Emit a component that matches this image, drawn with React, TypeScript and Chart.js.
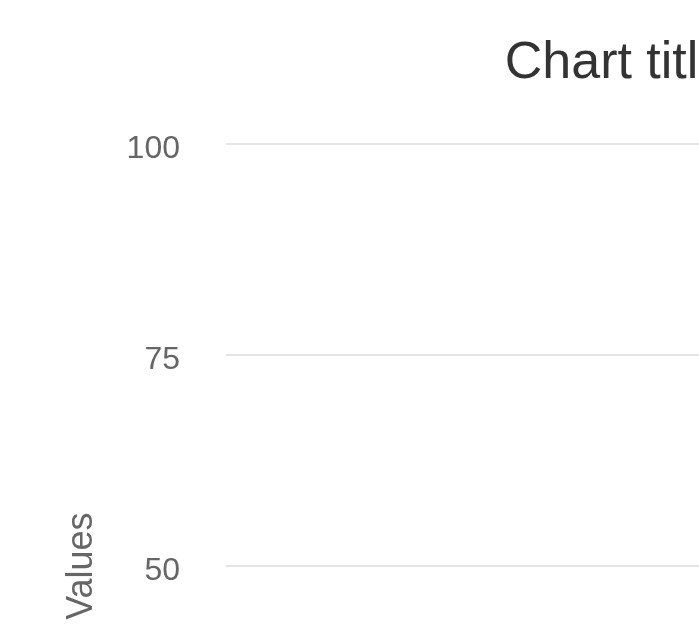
import { useEffect, useRef } from 'react';
import { Chart, registerables } from 'chart.js';

Chart.register(...registerables);

const FONT = "'Liberation Sans', Arial, Helvetica, sans-serif";

const categories = ['A', 'B', 'C', 'D', 'E', 'F'];
const seriesValues = [18, 32, 25, 40, 12, 28];
const yMin = 0;
const yMax = 100;
const yStep = 25;
const chartTitle = 'Chart title';
const yAxisTitle = 'Values';

export default function App() {
  const ref = useRef<HTMLCanvasElement>(null);

  useEffect(() => {
    if (!ref.current) return;
    const chart = new Chart(ref.current, {
      type: 'bar',
      data: {
        labels: categories,
        datasets: [
          {
            label: 'Series',
            data: seriesValues,
            backgroundColor: 'rgba(54, 162, 235, 0.6)',
          },
        ],
      },
      options: {
        animation: false,
        responsive: false,
        devicePixelRatio: 1,
        layout: { padding: 0 },
        plugins: {
          legend: { display: false },
          tooltip: { enabled: false },
          title: {
            display: true,
            text: chartTitle,
            color: '#333',
            font: { family: FONT, size: 52, weight: 'normal' },
            padding: { top: 24, bottom: 50 },
          },
        },
        scales: {
          x: {
            grid: { display: false },
            border: { display: false },
            ticks: { color: '#666', font: { family: FONT, size: 32 }, padding: 6 },
          },
          y: {
            min: yMin,
            max: yMax,
            border: { display: false },
            grid: { color: 'rgba(0,0,0,0.1)', lineWidth: 2, tickLength: 16 },
            ticks: {
              stepSize: yStep,
              color: '#666',
              padding: 46,
              labelOffset: 5,
              font: { family: FONT, size: 32 },
            },
            title: {
              display: true,
              text: yAxisTitle,
              color: '#666',
              font: { family: FONT, size: 36 },
              padding: { top: 52, bottom: -22.6 },
            },
          },
        },
      },
    });
    return () => chart.destroy();
  }, []);

  return (
    <div style={{ position: 'fixed', left: 0, top: 0, right: 0, bottom: 0, overflow: 'hidden' }}>
      <canvas
        ref={ref}
        width={1216}
        height={1045}
        style={{ position: 'absolute', left: 8, top: 8, display: 'block', width: 1216, height: 1045 }}
      />
    </div>
  );
}
